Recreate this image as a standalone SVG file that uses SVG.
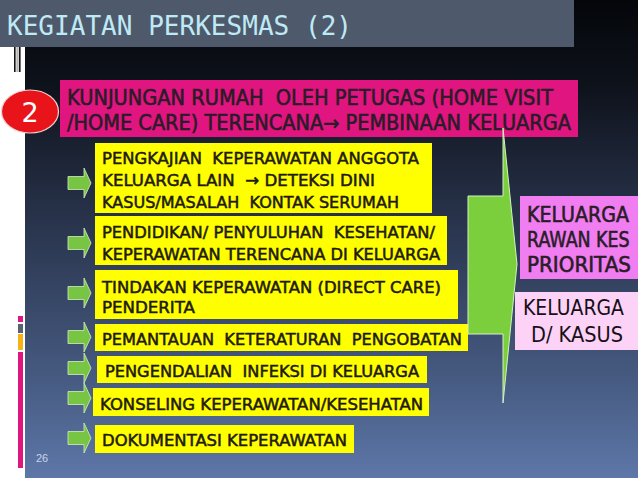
<svg xmlns="http://www.w3.org/2000/svg" width="638" height="478" viewBox="0 0 638 478">
<defs>
<linearGradient id="bg" x1="0" y1="0" x2="0" y2="1">
<stop offset="0" stop-color="#04060a"/>
<stop offset="0.18" stop-color="#0e121b"/>
<stop offset="0.5" stop-color="#2c3852"/>
<stop offset="0.78" stop-color="#45597f"/>
<stop offset="1" stop-color="#5d77a8"/>
</linearGradient>
<path id="arr" d="M68,-6.5 L84,-6.5 L84,-15 L91,0 L84,15 L84,6.5 L68,6.5 Z"/>
<style>
text{white-space:pre}
.arrow{fill:#78c544;stroke:#d2ecc0;stroke-width:0.8}
.yb{fill:#ffff00}
.yt{font-family:"DejaVu Sans","Liberation Sans",sans-serif;font-size:16.5px;fill:#1e1a10;stroke:#1e1a10;stroke-width:0.55}
.ht{font-family:"DejaVu Sans","Liberation Sans",sans-serif;font-size:20.5px;fill:#2a1c28;stroke:#2a1c28;stroke-width:0.6}
.rt{font-family:"DejaVu Sans","Liberation Sans",sans-serif;font-size:20.5px;fill:#2a1c28;stroke:#2a1c28;stroke-width:0.6}
.lt{font-family:"DejaVu Sans","Liberation Sans",sans-serif;font-size:20.5px;fill:#151015}
</style>
</defs>
<rect x="0" y="0" width="638" height="478" fill="url(#bg)"/>
<rect x="0" y="47" width="25" height="431" fill="#ffffff"/>
<rect x="14" y="47" width="1.6" height="25" fill="#111"/>
<rect x="16.6" y="47" width="1" height="25" fill="#888"/>
<rect x="18.8" y="47" width="1.8" height="25" fill="#111"/>
<rect x="18" y="316" width="5" height="6" fill="#e0157f"/>
<rect x="18" y="324" width="5" height="9" fill="#5a6272"/>
<rect x="18" y="334" width="5" height="16" fill="#f5b31a"/>
<rect x="18" y="352" width="5" height="116" fill="#e0157f"/>
<g id="title">
<rect x="0" y="0" width="574" height="47" fill="#4e5a6b"/>
<text x="7" y="35" font-family="'DejaVu Sans Mono','Liberation Mono',monospace" font-size="27" fill="#bfe9f5" textLength="345" lengthAdjust="spacingAndGlyphs">KEGIATAN PERKESMAS (2)</text>
</g>
<g id="badge">
<ellipse cx="30" cy="111.5" rx="28.5" ry="21.5" fill="#e8141a" stroke="#f4d0d0" stroke-width="1.2"/>
<text x="30" y="122" text-anchor="middle" font-family="'DejaVu Sans','Liberation Sans',sans-serif" font-size="27" fill="#ffffff">2</text>
</g>
<g id="header">
<rect x="60" y="80" width="518" height="57" fill="#e0157f"/>
<text class="ht" x="67" y="105" textLength="486" lengthAdjust="spacingAndGlyphs">KUNJUNGAN RUMAH  OLEH PETUGAS (HOME VISIT</text>
<text class="ht" x="67" y="130" textLength="504" lengthAdjust="spacingAndGlyphs">/HOME CARE) TERENCANA→ PEMBINAAN KELUARGA</text>
</g>
<g id="connectors">
<use href="#arr" class="arrow" transform="translate(0,183)"/>
<use href="#arr" class="arrow" transform="translate(0,243)"/>
<use href="#arr" class="arrow" transform="translate(0,293)"/>
<use href="#arr" class="arrow" transform="translate(0,337)"/>
<use href="#arr" class="arrow" transform="translate(0,368)"/>
<use href="#arr" class="arrow" transform="translate(0,398)"/>
<use href="#arr" class="arrow" transform="translate(0,438)"/>
</g>
<g id="box1">
<rect class="yb" x="95" y="143" width="337" height="70"/>
<text class="yt" x="102" y="164" textLength="317" lengthAdjust="spacingAndGlyphs">PENGKAJIAN  KEPERAWATAN ANGGOTA</text>
<text class="yt" x="102" y="186" textLength="273" lengthAdjust="spacingAndGlyphs">KELUARGA LAIN  → DETEKSI DINI</text>
<text class="yt" x="102" y="208" textLength="297" lengthAdjust="spacingAndGlyphs">KASUS/MASALAH  KONTAK SERUMAH</text>
</g>
<g id="box2">
<rect class="yb" x="95" y="216" width="352" height="49"/>
<text class="yt" x="102" y="238" textLength="333" lengthAdjust="spacingAndGlyphs">PENDIDIKAN/ PENYULUHAN  KESEHATAN/</text>
<text class="yt" x="102" y="260" textLength="338" lengthAdjust="spacingAndGlyphs">KEPERAWATAN TERENCANA DI KELUARGA</text>
</g>
<g id="box3">
<rect class="yb" x="95" y="270" width="363" height="49"/>
<text class="yt" x="102" y="293" textLength="339" lengthAdjust="spacingAndGlyphs">TINDAKAN KEPERAWATAN (DIRECT CARE)</text>
<text class="yt" x="102" y="313" textLength="93" lengthAdjust="spacingAndGlyphs">PENDERITA</text>
</g>
<g id="box4">
<rect class="yb" x="95" y="324" width="373" height="27"/>
<text class="yt" x="102" y="345" textLength="360" lengthAdjust="spacingAndGlyphs">PEMANTAUAN  KETERATURAN  PENGOBATAN</text>
</g>
<g id="box5">
<rect class="yb" x="97" y="356" width="330" height="27"/>
<text class="yt" x="105" y="377" textLength="314" lengthAdjust="spacingAndGlyphs">PENGENDALIAN  INFEKSI DI KELUARGA</text>
</g>
<g id="box6">
<rect class="yb" x="93" y="388" width="336" height="28"/>
<text class="yt" x="100" y="410" textLength="323" lengthAdjust="spacingAndGlyphs">KONSELING KEPERAWATAN/KESEHATAN</text>
</g>
<g id="box7">
<rect class="yb" x="95" y="425" width="259" height="28"/>
<text class="yt" x="102" y="446" textLength="245" lengthAdjust="spacingAndGlyphs">DOKUMENTASI KEPERAWATAN</text>
</g>
<g id="bigArrow">
<path d="M468,196 L503,196 L503,128 L517,264 L503,403 L503,334 L468,334 Z" fill="#7ccf3c" stroke="#d4f0c4" stroke-width="1"/>
</g>
<g id="priority">
<rect x="520" y="196" width="118" height="83" fill="#f07ef0"/>
<text class="rt" x="527" y="222" textLength="102" lengthAdjust="spacingAndGlyphs">KELUARGA</text>
<text class="rt" transform="translate(527,247) scale(0.85,1)">RAWAN KES</text>
<text class="rt" x="527" y="272" textLength="104" lengthAdjust="spacingAndGlyphs">PRIORITAS</text>
</g>
<g id="kasus">
<rect x="515" y="292" width="123" height="58" fill="#fcd2f7"/>
<text class="lt" x="523" y="315" textLength="101" lengthAdjust="spacingAndGlyphs">KELUARGA</text>
<text class="lt" x="531" y="342" textLength="92" lengthAdjust="spacingAndGlyphs">D/ KASUS</text>
</g>
<text x="36" y="462" font-family="'Liberation Sans',Arial,sans-serif" font-size="11" fill="#c8d4ec">26</text>
</svg>
